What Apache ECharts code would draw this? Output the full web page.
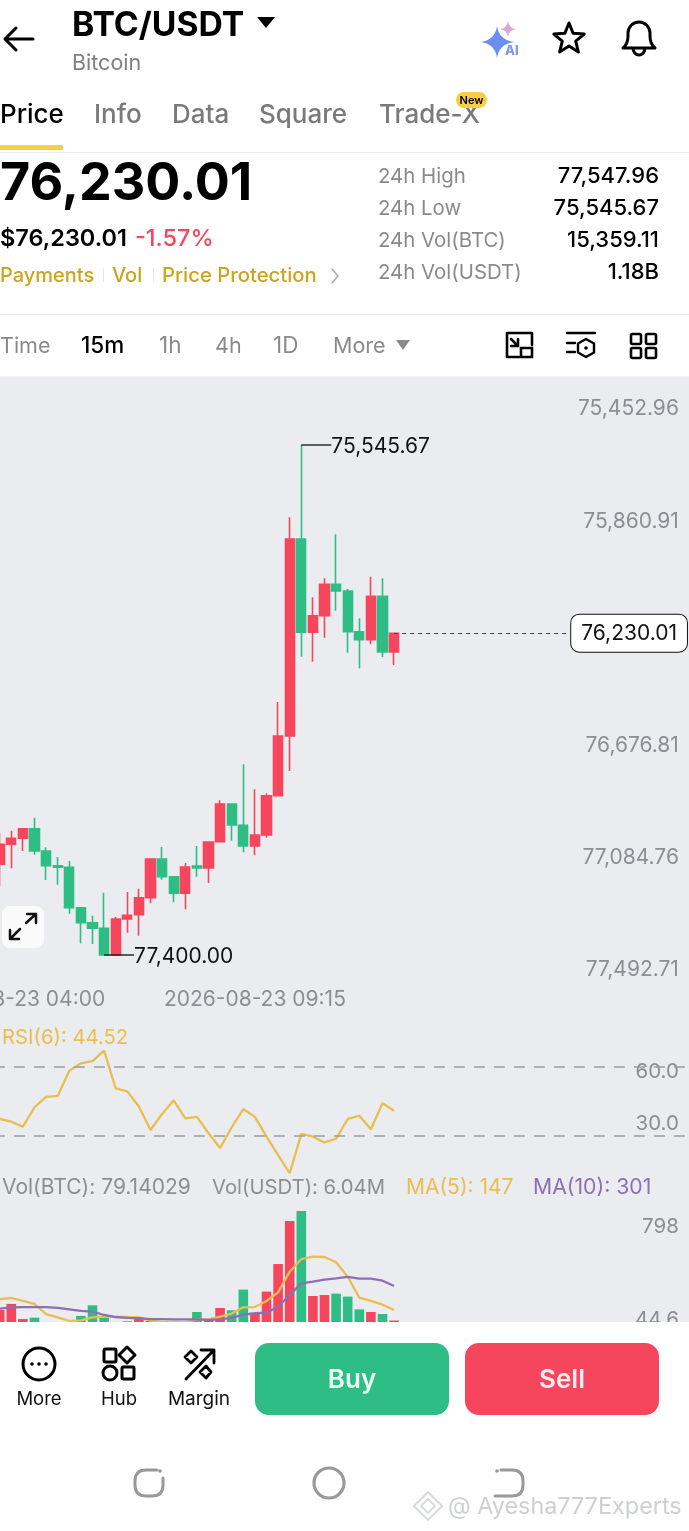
<!DOCTYPE html>
<html><head><meta charset="utf-8">
<style>html,body{margin:0;padding:0;background:#fff}#c{width:689px;height:1531px}</style>
<script src="https://cdn.jsdelivr.net/npm/echarts@6/dist/echarts.min.js"></script>
</head><body><div id="c"></div>
<script>
const categories = ["2026-08-23 03:45","2026-08-23 04:00","2026-08-23 04:15","2026-08-23 04:30","2026-08-23 04:45","2026-08-23 05:00","2026-08-23 05:15","2026-08-23 05:30","2026-08-23 05:45","2026-08-23 06:00","2026-08-23 06:15","2026-08-23 06:30","2026-08-23 06:45","2026-08-23 07:00","2026-08-23 07:15","2026-08-23 07:30","2026-08-23 07:45","2026-08-23 08:00","2026-08-23 08:15","2026-08-23 08:30","2026-08-23 08:45","2026-08-23 09:00","2026-08-23 09:15","2026-08-23 09:30","2026-08-23 09:45","2026-08-23 10:00","2026-08-23 10:15","2026-08-23 10:30","2026-08-23 10:45","2026-08-23 11:00","2026-08-23 11:15","2026-08-23 11:30","2026-08-23 11:45","2026-08-23 12:00","2026-08-23 12:15"];
const emptySlots = 25;
const timeTicks = [1, 22];
const opens  = [77070.2,76997.5,76975.7,76940.8,77021.9,77075.3,77081.1,77228.0,77282.6,77302.9,77400.0,77269.1,77253.5,77191.7,77051.0,77115.3,77175.7,77076.4,77083.6,76988.0,76851.0,76928.4,77003.6,76963.7,76820.8,76603.7,75887.5,76226.7,76166.3,76052.2,76076.6,76224.5,76253.6,76095.8,76298.3];
const closes = [76997.5,76975.7,76940.8,77021.9,77075.3,77081.1,77228.0,77282.6,77302.9,77400.0,77269.1,77255.6,77191.7,77051.0,77115.3,77175.7,77080.0,77083.6,76989.1,76851.0,76927.3,77003.6,76963.7,76820.8,76603.7,75887.5,76226.7,76166.3,76052.2,76076.6,76224.5,76253.6,76095.8,76298.3,76230.01];
const lows   = [76956.4,76948.1,76938.2,76900.8,77008.4,77043.7,77058.2,77228.0,77257.1,77173.4,77261.8,77170.9,77158.9,77051.0,77007.3,77115.3,77065.5,77003.6,76989.1,76837.5,76851.0,76706.6,76797.5,76812.0,76480.1,75808.6,75545.67,76099.5,76030.4,75870.4,76069.2,76175.8,76024.5,76030.4,76230.01];
const highs  = [77148.0,77084.8,77021.9,77035.2,77127.3,77144.3,77249.8,77357.4,77360.0,77400.0,77400.0,77318.8,77329.8,77212.0,77126.2,77208.4,77233.8,77115.3,77138.2,76988.0,76984.4,77026.5,77037.4,76973.5,76821.8,76731.0,76315.4,76333.6,76246.4,76148.2,76300.8,76357.6,76270.3,76316.5,76345.5];
const priceTicks = [75452.96,75860.91,76676.81,77084.76,77492.71];
const highMark = 75545.67, lowMark = 77400.00, lastPrice = 76230.01;
const rsi6 = [37.4,36.2,34.1,42.5,47.0,47.4,58.4,61.6,62.6,67.1,50.7,49.4,42.8,32.6,39.6,45.5,37.7,38.3,31.2,24.8,33.8,41.7,38.3,29.7,21.7,13.8,30.9,29.7,27.2,28.8,37.4,38.8,32.9,44.2,41.0];
const rsiLevels = [60, 30];
const volumes = [147,186,89,98,55,70,60,109,177,100,60,74,96,79,60,55,60,134,83,160,145,278,130,265,442,718,782,237,243,252,233,151,134,121,79.14];
const ma5 = [216,224,205,186,121,100,77,81,100,104,102,102,100,79,70,70,68,87,87,104,124,164,166,205,260,393,474,489,487,453,361,226,205,181,147];
const ma10 = [156,164,166,166,166,160,151,141,136,115,102,96,94,89,89,87,87,87,83,87,96,117,126,130,168,243,318,329,342,350,359,348,348,335,301];
const volTicks = [44.6, 798];
const headerTabs = ["Price","Info","Data","Square","Trade-X"];
const statLabels = ["24h High","24h Low","24h Vol(BTC)","24h Vol(USDT)"];
const statValues = ["77,547.96","75,545.67","15,359.11","1.18B"];

const GREEN='#2EBD85', RED='#F6465D', YEL='#E9BE50', PUR='#8C6FB5', GREY='#8A8E95', BG='#EAECEF', TAB='#7A7A7A', GOLD='#CBA51E';
const FONT='Inter, "Noto Sans", sans-serif';
const fmt = v => v.toLocaleString('en-US',{minimumFractionDigits:2,maximumFractionDigits:2});
const xData = categories.concat(Array(emptySlots).fill(''));
const candle = opens.map((o,i)=>[o,closes[i],lows[i],highs[i]]);
const volData = volumes.map((v,i)=>({value:v,itemStyle:{color:closes[i]>opens[i]?GREEN:RED}}));

let iconCount=0;
function T(x,y,text,size,color,weight,align,z){return {type:'text',x,y:y+1.5,z:z||5,silent:true,style:{text,fill:color,font:(weight||400)+' '+size+'px '+FONT,textAlign:align||'left',textVerticalAlign:'middle'}};}
function P(d,o){o=o||{};const name='icon'+(iconCount++);echarts.graphic.registerShape(name,echarts.graphic.extendPath(d,{}));
 return {type:name,z:o.z||5,silent:true,style:{fill:o.fill||'none',stroke:o.stroke||(o.fill?'none':'#000'),lineWidth:o.w||3,lineCap:'round',lineJoin:'round'}};}
function R(x,y,w,h,fill,r,z){return {type:'rect',z:z||5,silent:true,shape:{x,y,width:w,height:h,r:r||0},style:{fill}};}
function C(cx,cy,r,o){o=o||{};return {type:'circle',z:o.z||5,silent:true,shape:{cx,cy,r},style:{fill:o.fill||'none',stroke:o.stroke||'none',lineWidth:o.w||3}};}
const tabX=[0,94,172,259,379];
const statY=[176,208,240,272];
const elements=[
 R(0,377,689,945,BG,0,-1),
 R(0,376,689,1,'#F0F0F2',0,1),
 P('M5 39H33M16 28L5 39L16 50',{w:3}),
 T(72,24,'BTC/USDT',33.7,'#000',700),
 P('M257 17H275L266 28Z',{fill:'#000'}),
 T(72,62,'Bitcoin',21.5,'#808080'),
 P('M497 26Q499 40 514 42Q499 44 497 58Q495 44 481 42Q495 40 497 26Z',{fill:'#6C8EF2'}),
 P('M508 21Q509 28 516 29Q509 30 508 37Q507 30 500 29Q507 28 508 21Z',{fill:'#D6A8D8'}),
 T(505,50,'AI',13,'#7C9BF0',800),
 P('M569 23L573.1 33.3L584.2 34.1L575.7 41.2L578.4 52L569 46L559.6 52L562.3 41.2L553.8 34.1L564.9 33.3Z',{w:3}),
 P('M623 48Q628 44 628 36V33A11 11 0 0 1 650 33V36Q650 44 655 48ZM633 48A6 7 0 0 0 645 48',{w:3}),
 R(0,145,63,5,'#F7CF45'),
 R(0,152,689,1,'#EDEDED'),
 R(0,314,689,1,'#EDEDED'),
 R(456,92,31,16,'#F7CF45',8,6),
 T(471.5,99,'New',11,'#000',600,'center',7),
 T(0,183,'76,230.01',52,'#000',700),
 T(0,237,'$76,230.01',23.5,'#000',600),
 T(135,237,'-1.57%',23.5,RED,500),
 T(0,274,'Payments',20,GOLD,500),
 T(112,274,'Vol',20,GOLD,500),
 T(162,274,'Price Protection',20.3,GOLD,500),
 R(103,268,1,14,'#E8E8E8'),R(153,268,1,14,'#E8E8E8'),
 P('M332 269L338 276L332 283',{stroke:'#AAA',w:1.5}),
 T(0,345,'Time',21.5,'#8A8A8A'),
 T(81,345,'15m',22.5,'#000',500),
 T(159,345,'1h',22.5,'#8A8A8A'),
 T(215,345,'4h',21.5,'#8A8A8A'),
 T(273,345,'1D',22.5,'#8A8A8A'),
 T(333,345,'More',21.5,'#8A8A8A'),
 P('M396 340H410L403 350Z',{fill:'#8A8A8A'}),
 P('M519 357H507V333H532V345M511 339L518 346M518 339V346H511',{w:2.6}),
 {type:'rect',z:5,silent:true,shape:{x:521,y:348,width:11,height:9},style:{fill:'none',stroke:'#000',lineWidth:2.6}},
 P('M567 333H595M567 343H575M567 352H575M586 339L594 343.5V352.5L586 357L578 352.5V343.5Z',{w:2.4}),
 C(586,348,1.8,{fill:'#000'}),
 {type:'rect',z:5,silent:true,shape:{x:631,y:334,width:10,height:10,r:1.5},style:{fill:'none',stroke:'#000',lineWidth:2.6}},
 {type:'rect',z:5,silent:true,shape:{x:646,y:334,width:10,height:10,r:1.5},style:{fill:'none',stroke:'#000',lineWidth:2.6}},
 {type:'rect',z:5,silent:true,shape:{x:631,y:348,width:10,height:10,r:1.5},style:{fill:'none',stroke:'#000',lineWidth:2.6}},
 {type:'rect',z:5,silent:true,shape:{x:646,y:348,width:10,height:10,r:1.5},style:{fill:'none',stroke:'#000',lineWidth:2.6}},
 R(2,906,42,42,'#FAFAFB',8,50),
 P('M10 939L20 929M10 930V939H19M26 923L36 914M27 914H36V923',{w:2.5,stroke:'#111',z:51}),
 T(2,1036,'RSI(6): 44.52',20.3,YEL),
 T(2,1186,'Vol(BTC): 79.14029',21,GREY),
 T(212,1186,'Vol(USDT): 6.04M',20.3,GREY),
 T(406,1186,'MA(5): 147',21,YEL),
 T(533,1186,'MA(10): 301',21.2,PUR),
 R(0,1322,689,209,'#FFFFFF',0,100),
 C(39,1364,16,{stroke:'#000',w:3,z:101}),
 C(32,1364,1.8,{fill:'#000',z:101}),C(39,1364,1.8,{fill:'#000',z:101}),C(46,1364,1.8,{fill:'#000',z:101}),
 T(39,1398,'More',18.5,'#111',400,'center',101),
 {type:'rect',z:101,silent:true,shape:{x:104,y:1349,width:12,height:13,r:1.5},style:{fill:'none',stroke:'#000',lineWidth:3}},
 P('M127 1347L135 1355L127 1363L119 1355Z',{w:3,z:101}),
 C(110,1373,7,{stroke:'#000',w:3,z:101}),
 {type:'rect',z:101,silent:true,shape:{x:122,y:1367,width:12,height:12,r:1.5},style:{fill:'none',stroke:'#000',lineWidth:3}},
 T(119,1398,'Hub',18.5,'#111',400,'center',101),
 P('M186 1379L213 1351M201 1350H214V1363M191 1351L197 1357L191 1363L185 1357ZM206 1366L211 1372L206 1378L200 1372Z',{w:2.8,z:101}),
 T(199,1398,'Margin',19,'#111',400,'center',101),
 R(255,1343,194,72,GREEN,14,101),
 T(352,1379,'Buy',26,'#EAFBF4',600,'center',102),
 R(465,1343,194,72,RED,14,101),
 T(562,1379,'Sell',26,'#FFECEF',600,'center',102),
 P('M157 1470H146Q135 1470 135 1481V1485Q135 1496 146 1496H152Q163 1496 163 1485V1478',{stroke:'#999',w:3,z:101}),
 C(160,1471,1.8,{fill:'#999',z:101}),
 C(329,1483,15,{stroke:'#999',w:3.2,z:101}),
 P('M501 1470H512Q523 1470 523 1481V1485Q523 1496 512 1496H495',{stroke:'#999',w:3,z:101}),
 C(497,1471,1.8,{fill:'#999',z:101}),
 P('M428 1492L442 1506L428 1520L414 1506ZM428 1499L435 1506L428 1513L421 1506Z',{stroke:'#D8DADD',w:2,z:101}),
 T(448,1505.5,'@ Ayesha777Experts',23.4,'#CDD0D4',400,'left',101)
];
headerTabs.forEach((t,i)=>elements.push(T(tabX[i],114,t,26,i===0?'#000':TAB,500)));
statLabels.forEach((t,i)=>elements.push(T(378,statY[i]-1,t,20.4,'#8A8A8A')));
statValues.forEach((t,i)=>elements.push(T(659,statY[i]-1,t,22,'#000',500,'right')));

const band = 11.6, gridLeft = -6.1, gridW = band*xData.length;
const hiddenX = gi=>({type:'category',gridIndex:gi,data:xData,show:false,boundaryGap:true});
const noLine={show:false}, labelFont={fontFamily:FONT,fontSize:20.5,color:GREY};
const option={
 animation:false,
 textStyle:{fontFamily:FONT},
 grid:[
  {left:gridLeft,top:377,width:gridW,height:608,outerBoundsMode:'none'},
  {left:gridLeft,top:1040,width:gridW,height:135,outerBoundsMode:'none'},
  {left:gridLeft,top:1200,width:gridW,height:132.9,outerBoundsMode:'none'}
 ],
 xAxis:[
  {type:'category',gridIndex:0,data:xData,position:'bottom',boundaryGap:true,axisLine:noLine,axisTick:noLine,splitLine:noLine,
   axisLabel:{...labelFont,fontSize:21,margin:4,interval:(i)=>timeTicks.includes(i),hideOverlap:false}},
  hiddenX(1),hiddenX(2)
 ],
 yAxis:[
  {type:'value',gridIndex:0,inverse:true,position:'right',min:75298.44,max:77509.06,axisLine:noLine,axisTick:noLine,splitLine:noLine,
   axisLabel:{...labelFont,fontSize:21,inside:true,margin:11,verticalAlign:'bottom',customValues:priceTicks,formatter:v=>fmt(v)}},
  {type:'value',gridIndex:1,position:'right',min:13.04,max:71.74,axisLine:noLine,axisTick:noLine,splitLine:noLine,
   axisLabel:{...labelFont,inside:true,margin:11,customValues:rsiLevels,formatter:v=>v===60?'{a|60.0}':'{b|30.0}',
     rich:{a:{...labelFont,padding:[10,0,0,0]},b:{...labelFont,padding:[0,0,24,0]}}}},
  {type:'value',gridIndex:2,position:'right',min:0,max:853,axisLine:noLine,axisTick:noLine,splitLine:noLine,
   axisLabel:{...labelFont,inside:true,margin:11,customValues:volTicks,formatter:v=>v===798?'{a|798}':'{b|44.6}',
     rich:{a:{...labelFont,padding:[36,0,0,0]},b:{...labelFont,padding:[0,0,12,0]}}}}
 ],
 series:[
  {type:'candlestick',xAxisIndex:0,yAxisIndex:0,data:candle,barWidth:9.6,
   itemStyle:{color:GREEN,color0:RED,borderColor:GREEN,borderColor0:RED,borderWidth:1.6},
   markLine:{silent:true,symbol:'none',animation:false,label:{show:false},
     lineStyle:{color:'#444',type:[4,4],width:1},
     data:[[{coord:[34,lastPrice]},{coord:[49,lastPrice]}]]},
   markPoint:{silent:true,animation:false,data:[
     {coord:[26,highMark],symbol:'rect',symbolSize:[30,1.3],symbolOffset:[15,0],itemStyle:{color:'#111'},
      label:{show:true,formatter:fmt(highMark),position:'right',distance:0,offset:[0,2],fontFamily:FONT,fontSize:21,color:'#111'}},
     {coord:[9,lowMark],symbol:'rect',symbolSize:[30,1.3],symbolOffset:[15,0],itemStyle:{color:'#111'},
      label:{show:true,formatter:fmt(lowMark),position:'right',distance:0,offset:[0,2],fontFamily:FONT,fontSize:21,color:'#111'}},
     {coord:[54,lastPrice],symbol:'circle',symbolSize:0,
      label:{show:true,formatter:fmt(lastPrice),position:'inside',offset:[3,0],fontFamily:FONT,fontSize:21,color:'#111',
       backgroundColor:'#FFFFFF',borderColor:'#111',borderWidth:1,borderRadius:8,padding:[9,10,7,10]}}
   ]}},
  {type:'line',xAxisIndex:1,yAxisIndex:1,data:rsi6,symbol:'none',lineStyle:{color:YEL,width:2.3},
   markLine:{silent:true,symbol:'none',animation:false,label:{show:false},lineStyle:{color:'#9A9A9A',type:[11,9],width:1.6},
     data:rsiLevels.map(v=>({yAxis:v}))}},
  {type:'bar',xAxisIndex:2,yAxisIndex:2,data:volData,barWidth:9.6},
  {type:'line',xAxisIndex:2,yAxisIndex:2,data:ma5,symbol:'none',lineStyle:{color:YEL,width:2.3}},
  {type:'line',xAxisIndex:2,yAxisIndex:2,data:ma10,symbol:'none',lineStyle:{color:PUR,width:2.3}}
 ],
 graphic:{elements}
};
const chart=echarts.init(document.getElementById('c'),null,{renderer:'canvas',width:689,height:1531});
chart.setOption(option);
</script></body></html>
